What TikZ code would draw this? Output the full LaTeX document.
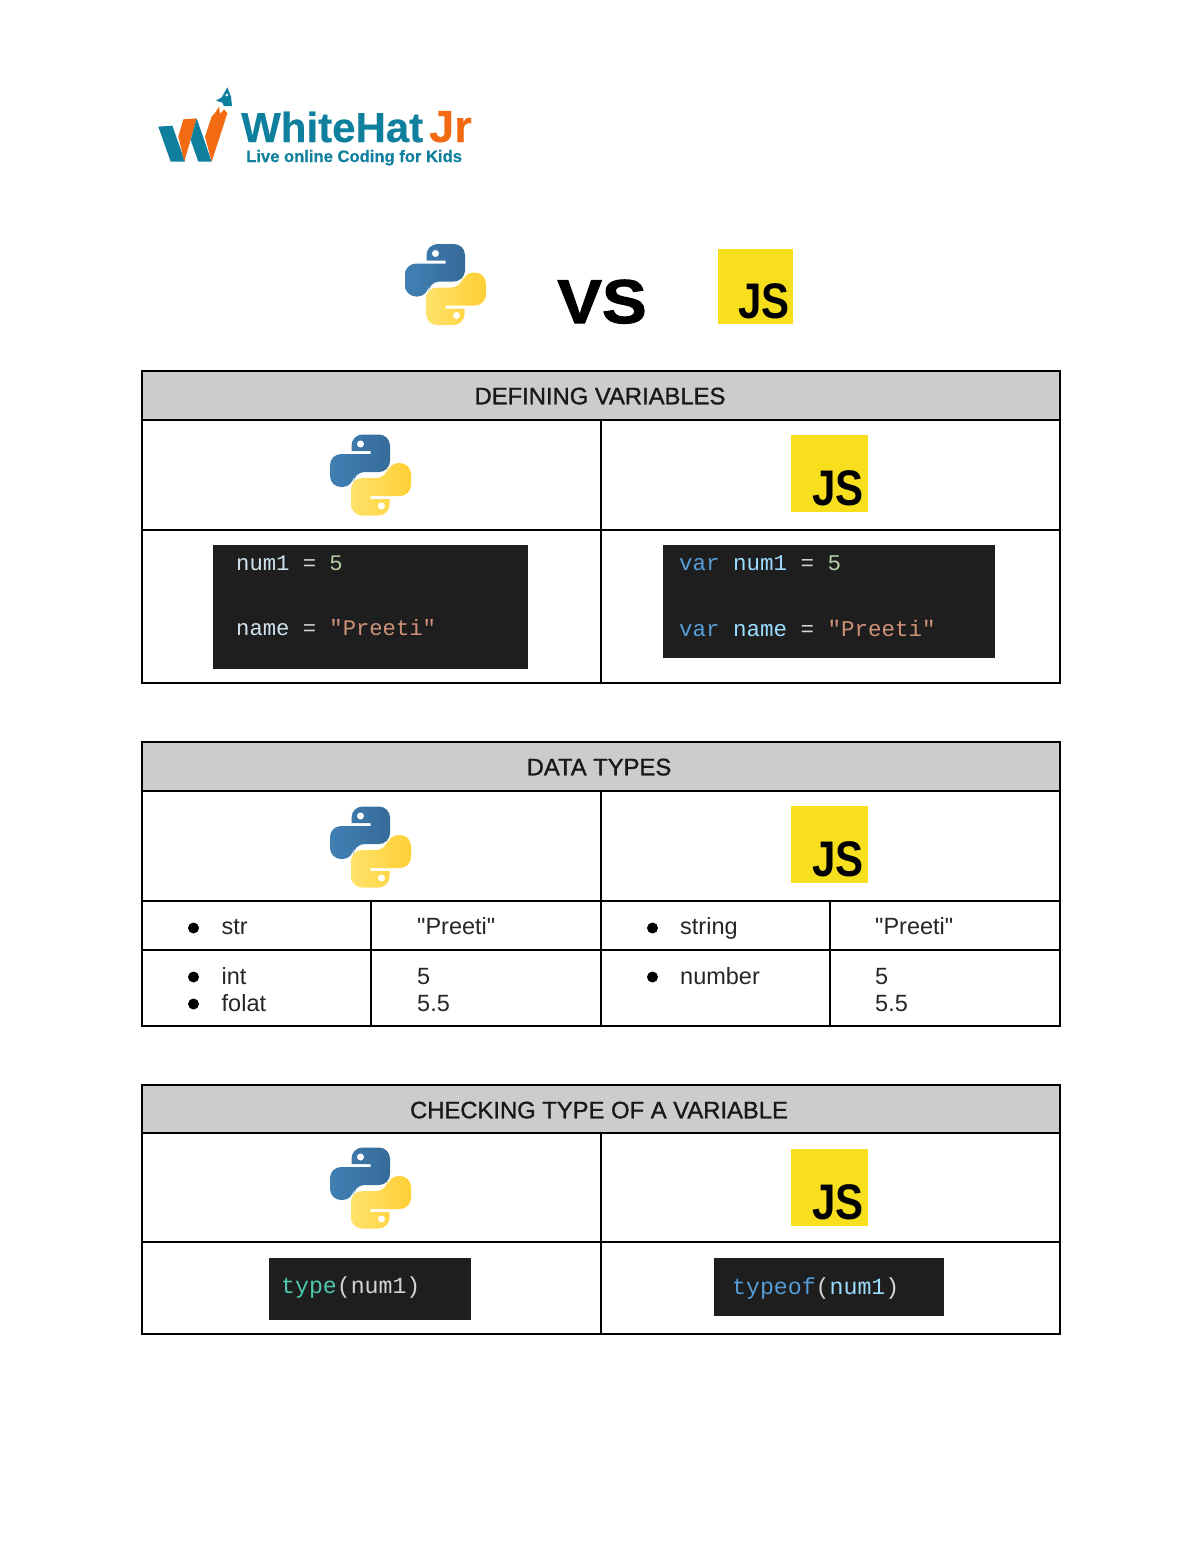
\documentclass[tikz,border=0pt]{standalone}
\usepackage{xcolor}
\usepackage{fontspec}
\setmainfont{Liberation Sans}
\newfontfamily\tablefont{Liberation Sans}
\newfontfamily\headfont{Liberation Sans}[FakeBold=1.2]
\newfontfamily\vsfont{Liberation Sans Bold}[FakeBold=1.6]
\newfontfamily\brandfont{Liberation Sans Bold}[FakeBold=0.4]
\newfontfamily\codefont{Liberation Mono}
\definecolor{wteal}{HTML}{0F7F9E}
\definecolor{worange}{HTML}{F26A12}
\definecolor{headgray}{HTML}{CCCCCC}
\definecolor{codebg}{HTML}{1E1E1E}
\definecolor{pyblueA}{HTML}{4180B4}
\definecolor{pyblueB}{HTML}{356B99}
\definecolor{pyyellowA}{HTML}{FFE26A}
\definecolor{pyyellowB}{HTML}{FFCF35}
\definecolor{jsyellow}{HTML}{F7DF1E}
\definecolor{kwblue}{HTML}{569CD6}
\definecolor{varblue}{HTML}{9CDCFE}
\definecolor{varpale}{HTML}{CFE3EE}
\definecolor{numgreen}{HTML}{B5CEA8}
\definecolor{strorange}{HTML}{CE9178}
\definecolor{fnteal}{HTML}{4EC9B0}
\definecolor{plaingray}{HTML}{D4D4D4}
\tikzset{
  headbox/.style={draw=black, rectangle, line width=2pt, fill=headgray, minimum width=918pt, minimum height=49pt},
  headtext/.style={black!90, anchor=base, inner sep=0pt, font=\headfont\fontsize{23.8}{26}\selectfont},
  cellbox/.style={draw=black, rectangle, line width=2pt, inner sep=0pt},
  bodytext/.style={black!85, anchor=base west, inner sep=0pt, font=\tablefont\fontsize{23.5}{26}\selectfont},
  bulletdot/.style={circle, fill=black, inner sep=0pt, minimum size=11pt},
  codebox/.style={rectangle, fill=codebg, inner sep=0pt},
  codetext/.style={anchor=base west, inner sep=0pt, text=plaingray, font=\codefont\fontsize{22.2}{26}\selectfont},
  bigcode/.style={codetext, font=\codefont\fontsize{23.2}{26}\selectfont},
  jsbox/.style={rectangle, fill=jsyellow, inner sep=0pt},
  jstext/.style={black, anchor=base east, inner sep=0pt, font=\fontsize{50}{54}\selectfont\bfseries, xscale=.84, transform shape},
  brandtext/.style={anchor=base west, inner sep=0pt, font=\brandfont\fontsize{42}{46}\selectfont},
  pics/pylogo/.style={code={
    \path[left color=pyblueA, right color=pyblueB, rounded corners=11pt] (-19,-24) -- (-19,-40.5) -- (19.5,-40.5) -- (19.5,-3) -- (-17,-3) -- (-17,12) -- (-40.5,12) -- (-40.5,-21) [sharp corners] -- (0,-21) -- (0,-24) -- cycle;
    \path[left color=pyyellowA, right color=pyyellowB, rounded corners=11pt] (19,24) -- (19,40.5) -- (-19.5,40.5) -- (-19.5,3) -- (17,3) -- (17,-12) -- (40.5,-12) -- (40.5,21) [sharp corners] -- (0,21) -- (0,24) -- cycle;
    \fill[white] (-10,-31) circle (3.5pt);
    \fill[white] (11,31) circle (3.5pt);
  }}
}
\begin{document}
\begin{tikzpicture}[x=1pt, y=-1pt]
  \useasboundingbox (0,0) rectangle (1200,1553);
  % logo
  \begin{scope}[shift={(150,80)}, x=.3333pt, y=-.3333pt]
    \fill[wteal] (25,140) -- (67,137) -- (105,245) -- (62,245) -- cycle;
    \fill[worange] (100,118) -- (140,115) -- (103,245) -- (85,170) -- cycle;
    \fill[wteal] (140,115) -- (185,245) -- (145,245) -- (122,180) -- cycle;
    \fill[worange] (165,170) -- (185,110) -- (194,100) -- (207,80) -- (210,102) -- (222,88) -- (232,100) -- (185,245) -- cycle;
    \fill[wteal] (232,22) -- (243,50) -- (246,78) -- (222,78) -- (217,68) -- (198,62) -- (215,52) -- cycle;
    \fill[white] (231,45) circle (1.5pt);
  \end{scope}
  \node[wteal, brandtext] (brand) at (241,142) {WhiteHat};
  \node[worange, brandtext, font=\brandfont\fontsize{45}{46}\selectfont] (brandjr) at (429,142) {Jr};
  \node[wteal, anchor=base west, inner sep=0pt, font=\brandfont\fontsize{16.6}{20}\selectfont] (slogan) at (246,162) {Live online Coding for Kids};
  % title row
  \pic at (445.5,284.5) {pylogo};
  \node[black, inner sep=0pt, anchor=base, font=\vsfont\fontsize{62}{70}\selectfont, xscale=1.08, transform shape] (vs) at (602,323) {VS};
  \node[jsbox, minimum size=75pt] (jstop) at (755.5,286.5) {};
  \node[jstext] at (790,318) {JS};

  % defining variables
  \node[headbox] (headone) at (601,395.5) {};
  \node[headtext] (headonetext) at (600,404.3) {DEFINING VARIABLES};
  \node[cellbox, minimum width=459pt, minimum height=110pt] (logoleftone) at (371.5,475) {};
  \node[cellbox, minimum width=459pt, minimum height=110pt] (logorightone) at (830.5,475) {};
  \node[cellbox, minimum width=459pt, minimum height=153pt] (codeleftone) at (371.5,606.5) {};
  \node[cellbox, minimum width=459pt, minimum height=153pt] (coderightone) at (830.5,606.5) {};
  \pic at (370.5,475) {pylogo};
  \node[jsbox, minimum size=77pt] (jsone) at (829.5,473.5) {};
  \node[jstext] at (864,505) {JS};
  \node[codebox, minimum width=315pt, minimum height=124pt] (pycodeone) at (370.5,607) {};
  \node[codebox, minimum width=332pt, minimum height=113pt] (jscodeone) at (829,601.5) {};
  \node[codetext] at (236,570) {\textcolor{varpale}{num1} = \textcolor{numgreen}{5}};
  \node[codetext] at (236,635) {\textcolor{varpale}{name} = \textcolor{strorange}{"Preeti"}};
  \node[codetext, font=\codefont\fontsize{22.5}{26}\selectfont] at (679,570) {\textcolor{kwblue}{var} \textcolor{varblue}{num1} = \textcolor{numgreen}{5}};
  \node[codetext, font=\codefont\fontsize{22.5}{26}\selectfont] at (679,636) {\textcolor{kwblue}{var} \textcolor{varblue}{name} = \textcolor{strorange}{"Preeti"}};

  % data types
  \node[headbox] (headtwo) at (601,766.5) {};
  \node[headtext] (headtwotext) at (599,775.3) {DATA TYPES};
  \node[cellbox, minimum width=459pt, minimum height=110pt] (logolefttwo) at (371.5,845.5) {};
  \node[cellbox, minimum width=459pt, minimum height=110pt] (logorighttwo) at (830.5,845.5) {};
  \pic at (370.5,847) {pylogo};
  \node[jsbox, minimum size=77pt] (jstwo) at (829.5,844.5) {};
  \node[jstext] at (864,876) {JS};
  \node[cellbox, minimum width=229pt, minimum height=49.5pt] (strcell) at (256.5,925.25) {};
  \node[cellbox, minimum width=230pt, minimum height=49.5pt] (strval) at (486,925.25) {};
  \node[cellbox, minimum width=229pt, minimum height=49.5pt] (stringcell) at (715.5,925.25) {};
  \node[cellbox, minimum width=230pt, minimum height=49.5pt] (stringval) at (945,925.25) {};
  \node[cellbox, minimum width=229pt, minimum height=76pt] (numcell) at (256.5,988) {};
  \node[cellbox, minimum width=230pt, minimum height=76pt] (numval) at (486,988) {};
  \node[cellbox, minimum width=229pt, minimum height=76pt] (numbercell) at (715.5,988) {};
  \node[cellbox, minimum width=230pt, minimum height=76pt] (numberval) at (945,988) {};
  \node[bulletdot] (dotstr) at (193.5,928) {};
  \node[bodytext] at (221.5,934.5) {str};
  \node[bodytext] at (417,934.5) {"Preeti"};
  \node[bulletdot] (dotstring) at (652.5,928) {};
  \node[bodytext] at (680,934.5) {string};
  \node[bodytext] at (875,934.5) {"Preeti"};
  \node[bulletdot] (dotint) at (193.5,977) {};
  \node[bodytext] at (221.5,984.5) {int};
  \node[bulletdot] (dotfolat) at (193.5,1004) {};
  \node[bodytext] at (221.5,1011) {folat};
  \node[bodytext] at (417,984.5) {5};
  \node[bodytext] at (417,1011) {5.5};
  \node[bulletdot] (dotnumber) at (652.5,977) {};
  \node[bodytext] at (680,984.5) {number};
  \node[bodytext] at (875,984.5) {5};
  \node[bodytext] at (875,1011) {5.5};

  % checking type
  \node[headbox, minimum height=48pt] (headthree) at (601,1109) {};
  \node[headtext] (headthreetext) at (599,1118.3) {CHECKING TYPE OF A VARIABLE};
  \node[cellbox, minimum width=459pt, minimum height=109pt] (logoleftthree) at (371.5,1187.5) {};
  \node[cellbox, minimum width=459pt, minimum height=109pt] (logorightthree) at (830.5,1187.5) {};
  \node[cellbox, minimum width=459pt, minimum height=92pt] (codeleftthree) at (371.5,1288) {};
  \node[cellbox, minimum width=459pt, minimum height=92pt] (coderightthree) at (830.5,1288) {};
  \pic at (370.5,1188) {pylogo};
  \node[jsbox, minimum size=77pt] (jsthree) at (829.5,1187) {};
  \node[jstext] at (864,1219) {JS};
  \node[codebox, minimum width=202pt, minimum height=62pt] (pycodethree) at (370,1289) {};
  \node[codebox, minimum width=230pt, minimum height=58pt] (jscodethree) at (829,1287) {};
  \node[bigcode] at (281,1293) {\textcolor{fnteal}{type}(num1)};
  \node[bigcode] at (732,1294) {\textcolor{kwblue}{typeof}(\textcolor{varblue}{num1})};
\end{tikzpicture}
\end{document}
